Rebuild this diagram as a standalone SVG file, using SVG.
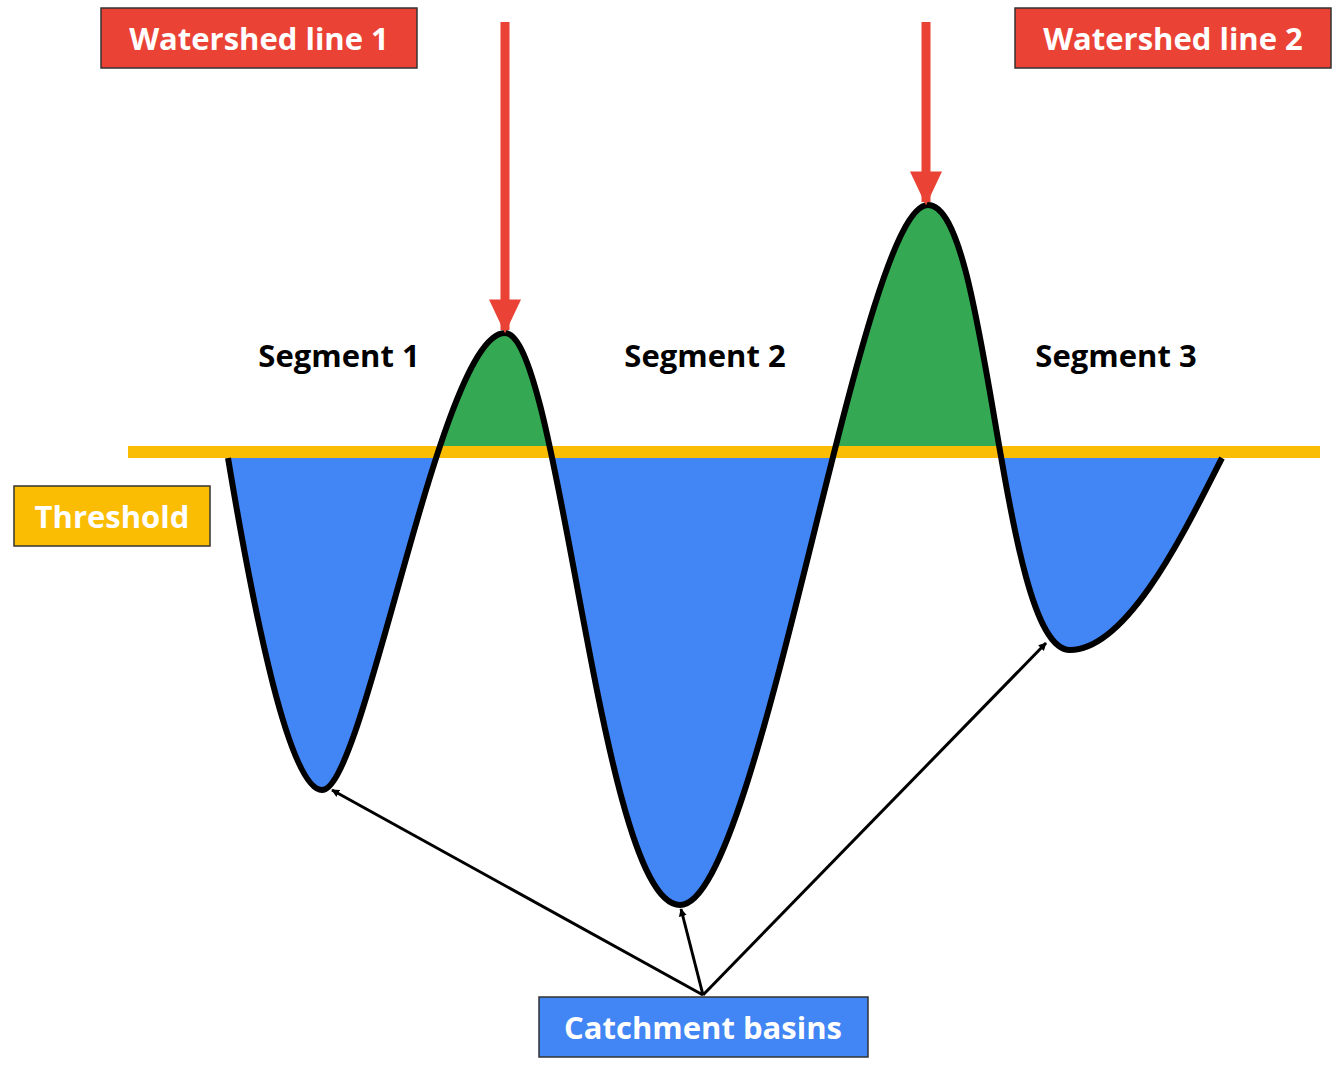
<svg xmlns="http://www.w3.org/2000/svg" width="1343" height="1080" viewBox="0 0 1343 1080">
<style>
.lbl{font-family:"Open Sans","Liberation Sans",sans-serif;font-weight:bold;font-size:31px;fill:#fff;text-anchor:middle}
.seg{font-family:"Open Sans","Liberation Sans",sans-serif;font-weight:bold;font-size:31px;fill:#000;text-anchor:middle}
.box{stroke:#333;stroke-width:1.5}
</style>
<defs>
<path id="curve" d="M228,458 C255,620 290,790 322,790 C365,790 440,333 505,333 C560,333 600,905 680,905 C760,905 860,205 928,205 C990,205 1000,650 1070,650 C1130,650 1190,520 1222,458"/>
<clipPath id="below"><rect x="0" y="452" width="1343" height="628"/></clipPath>
<clipPath id="above"><rect x="0" y="0" width="1343" height="452"/></clipPath>
<marker id="bk" viewBox="0 0 10 10" refX="9" refY="5" markerWidth="8" markerHeight="8" orient="auto" markerUnits="userSpaceOnUse"><path d="M0,0 L10,5 L0,10 z" fill="#000"/></marker>
<marker id="rd" viewBox="0 0 10 10" refX="9" refY="5" markerWidth="34" markerHeight="32" orient="auto" markerUnits="userSpaceOnUse" preserveAspectRatio="none"><path d="M0,0 L10,5 L0,10 z" fill="#EA4335"/></marker>
</defs>
<g id="terrain">
<use href="#curve" fill="#4285F4" clip-path="url(#below)"/>
<use href="#curve" fill="#34A853" clip-path="url(#above)"/>
<line x1="128" y1="452" x2="1320" y2="452" stroke="#FBBC04" stroke-width="12"/>
<use href="#curve" fill="none" stroke="#000" stroke-width="6"/>
</g>
<g id="connectors" stroke="#000" stroke-width="3">
<line x1="703" y1="995" x2="332" y2="790" marker-end="url(#bk)"/>
<line x1="703" y1="995" x2="681" y2="909" marker-end="url(#bk)"/>
<line x1="703" y1="995" x2="1046" y2="643" marker-end="url(#bk)"/>
<line x1="505" y1="22" x2="505" y2="330" stroke="#EA4335" stroke-width="9" marker-end="url(#rd)"/>
<line x1="926" y1="22" x2="926" y2="202" stroke="#EA4335" stroke-width="9" marker-end="url(#rd)"/>
</g>
<g id="ws1"><rect class="box" x="101" y="8" width="316" height="60" fill="#EA4335"/><text class="lbl" x="259" y="50">Watershed line 1</text></g>
<g id="ws2"><rect class="box" x="1015" y="8" width="316" height="60" fill="#EA4335"/><text class="lbl" x="1173" y="50">Watershed line 2</text></g>
<g id="threshold"><rect class="box" x="14" y="486" width="196" height="60" fill="#FBBC04"/><text class="lbl" x="112" y="528">Threshold</text></g>
<g id="catch"><rect class="box" x="539" y="997" width="329" height="60" fill="#4285F4"/><text class="lbl" x="703" y="1039">Catchment basins</text></g>
<g id="seg1"><text class="seg" x="339" y="367">Segment 1</text></g>
<g id="seg2"><text class="seg" x="705" y="367">Segment 2</text></g>
<g id="seg3"><text class="seg" x="1116" y="367">Segment 3</text></g>
</svg>
